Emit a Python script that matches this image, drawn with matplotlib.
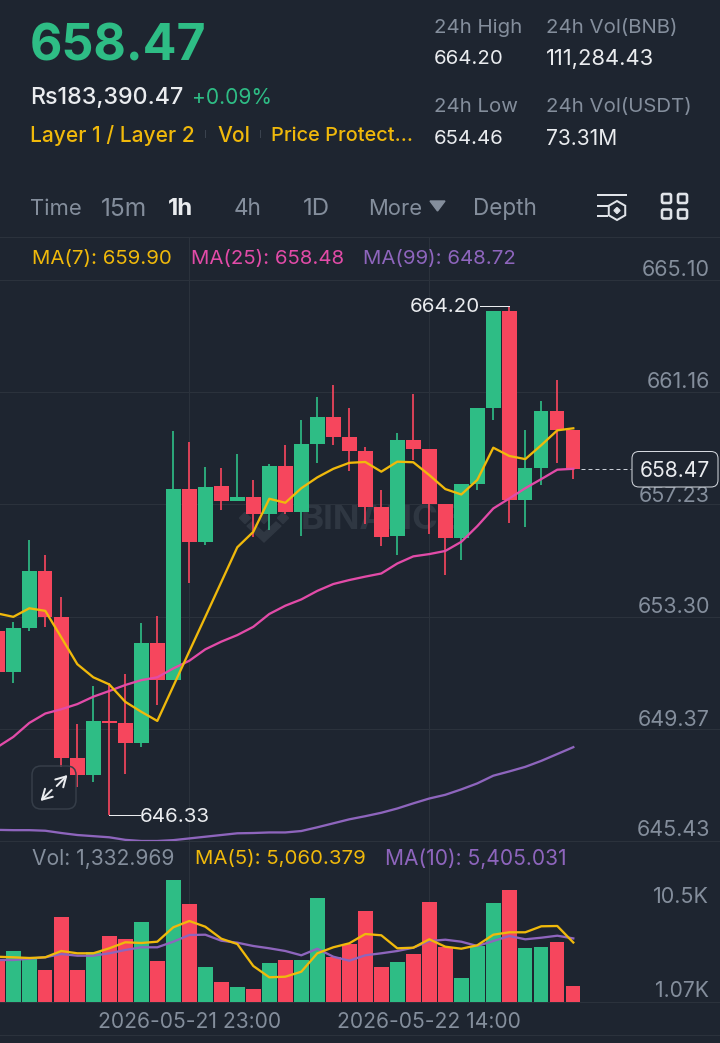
import matplotlib
matplotlib.use("Agg")
import matplotlib.pyplot as plt
from matplotlib.patches import FancyBboxPatch, Polygon, RegularPolygon, FancyArrowPatch
import numpy as np

plt.rcParams['font.family'] = ['Inter', 'DejaVu Sans']

# candles, hourly, oldest first
opens = [652.80, 651.36, 652.91, 654.91, 653.28, 648.35, 647.74, 649.63, 649.57, 648.87, 652.36, 651.07, 657.78,
         655.92, 657.87, 657.34, 657.50, 656.89, 658.58, 656.97, 659.34, 660.31, 659.60, 659.11, 657.14, 656.12,
         659.48, 659.16, 657.24, 656.06, 657.94, 660.61, 664.00, 657.38, 658.50, 660.52, 659.83]
highs = [653.10, 653.12, 655.98, 655.46, 653.97, 649.53, 650.86, 650.96, 651.27, 653.06, 653.32, 659.82, 659.41,
         658.53, 658.50, 659.00, 658.09, 658.65, 659.31, 660.19, 661.01, 661.42, 660.60, 659.23, 657.74, 659.72,
         661.10, 659.16, 657.24, 657.94, 660.61, 664.00, 664.20, 659.84, 660.85, 661.59, 659.83]
lows = [651.00, 650.98, 652.80, 652.94, 648.03, 647.33, 647.51, 646.33, 647.77, 648.71, 650.21, 651.07, 654.46,
        655.81, 657.03, 657.34, 656.10, 656.33, 656.89, 656.12, 658.69, 659.31, 658.41, 656.54, 655.78, 655.46,
        658.79, 656.19, 654.75, 655.28, 657.74, 660.19, 656.59, 656.43, 657.92, 658.69, 658.12]
closes = [651.36, 652.91, 654.90, 653.28, 648.35, 647.73, 649.63, 649.56, 648.87, 652.36, 651.07, 657.78, 655.92,
          657.85, 657.35, 657.50, 656.89, 658.58, 656.97, 659.34, 660.31, 659.60, 659.11, 657.14, 656.10, 659.48,
          659.16, 657.24, 656.06, 657.94, 660.61, 664.00, 657.38, 658.50, 660.52, 659.84, 658.47]

ma7 = [653.41, 653.29, 653.59, 653.50, 652.57, 651.63, 651.17, 650.92, 650.31, 649.96, 649.64, 650.86, 652.08,
       653.29, 654.51, 655.73, 656.27, 657.43, 657.29, 657.80, 658.18, 658.48, 658.69, 658.72, 658.38, 658.73,
       658.71, 658.26, 657.77, 657.58, 658.09, 659.22, 658.93, 658.82, 659.31, 659.83, 659.90]
ma25 = [648.72, 649.08, 649.57, 649.90, 650.05, 650.23, 650.49, 650.69, 650.90, 651.07, 651.17, 651.48, 651.75,
        652.15, 652.42, 652.65, 652.94, 653.39, 653.68, 653.90, 654.20, 654.44, 654.58, 654.70, 654.81, 655.16,
        655.41, 655.49, 655.60, 655.92, 656.47, 657.09, 657.44, 657.80, 658.12, 658.45, 658.48]
ma99 = [645.82, 645.81, 645.81, 645.79, 645.71, 645.64, 645.60, 645.56, 645.47, 645.43, 645.43, 645.46, 645.52,
        645.58, 645.64, 645.70, 645.71, 645.73, 645.73, 645.78, 645.91, 646.05, 646.19, 646.30, 646.42, 646.57,
        646.75, 646.92, 647.05, 647.24, 647.45, 647.72, 647.87, 648.03, 648.24, 648.48, 648.72]

volumes = [3570, 4335, 3630, 2720, 7225, 2720, 4276, 5636, 5355, 6800, 3511, 10370, 8305, 2975, 1675, 1300, 1080,
           3315, 3545, 3570, 8815, 3851, 4905, 7735, 2950, 3375, 4055, 8526, 4650, 2040, 4760, 8441, 9520, 4565,
           4650, 5075, 1333]
vol_ma5 = [3850, 3800, 3740, 3800, 4335, 4140, 4140, 4565, 5075, 5015, 5126, 6350, 6885, 6400, 5380, 4930, 3060,
           2100, 2150, 2575, 4140, 4650, 4990, 5780, 5670, 4565, 4615, 5330, 4700, 4530, 4820, 5720, 5925, 5925,
           6435, 6460, 5060]
vol_ma10 = [3570, 3570, 3680, 3800, 4080, 3935, 3935, 4140, 4420, 4650, 4650, 5126, 5695, 5720, 5210, 5040, 4760,
            4565, 4335, 3970, 4530, 3850, 3510, 3970, 4140, 4335, 4615, 5185, 5295, 5126, 4760, 5185, 5610, 5330,
            5465, 5635, 5405]

price_ticks = [665.10, 661.16, 657.23, 653.30, 649.37, 645.43]
price_labels = ['665.10', '661.16', '657.23', '653.30', '649.37', '645.43']
date_labels = ['2026-05-21 23:00', '2026-05-22 14:00']
date_idx = [12, 27]

BG = '#1e2530'
GRID = '#2b323c'
GREEN = '#2ebd85'
RED = '#f6465d'
YELLOW = '#f0b90b'
PINK = '#e24ba8'
PURPLE = '#8e65bd'
GRAY = '#848e9c'
WHITE = '#eaecef'

W, H = 720, 1043
PX = 0.72  # points per pixel at dpi 100

fig = plt.figure(figsize=(W / 100, H / 100), dpi=100, facecolor=BG)


def panel(top, bottom, z):
    a = fig.add_axes([0, (H - bottom) / H, 1, (bottom - top) / H], zorder=z)
    a.set_xlim((0 + 2.7) / 16, (W + 2.7) / 16)
    a.patch.set_alpha(0)
    a.axis('off')
    return a


# background layer in pixels, holds the watermark
bg = fig.add_axes([0, 0, 1, 1], zorder=0)
bg.set_xlim(0, W)
bg.set_ylim(H, 0)
bg.set_facecolor(BG)
bg.axis('off')
mark = '#2f3742'
bg.text(301, 520, 'BINANCE', color=mark, fontsize=35 * PX, fontweight='bold', va='center', ha='left')
for cx, cy in [(245, 518), (283, 518), (264, 518)]:
    bg.add_patch(RegularPolygon((cx, cy), 4, radius=5.5, color=mark))
bg.add_patch(Polygon([(247, 526), (252, 522), (264, 533), (276, 522), (281, 526), (264, 542)], color=mark))

# price panel
ax = panel(237, 841, 1)
k = 0.03507
ax.set_ylim(645.43, 665.10 + (280 - 237) * k)
x = np.arange(len(closes))
up = np.array(closes) >= np.array(opens)
colors = [GREEN if u else RED for u in up]

for p in price_ticks[:-1]:
    ax.axhline(p, color=GRID, lw=1 * PX, zorder=1)
for d in date_idx:
    ax.axvline(d, color=GRID, lw=1 * PX, zorder=1)

ax.vlines(x, lows, highs, colors=colors, lw=2 * PX, alpha=0.85, zorder=2)
body_lo = np.minimum(opens, closes)
body_hi = np.maximum(opens, closes)
ax.bar(x, body_hi - body_lo, bottom=body_lo, width=0.9, color=colors, zorder=3)

ax.plot(x, ma99, color=PURPLE, lw=2.3 * PX, zorder=4)
ax.plot(x, ma25, color=PINK, lw=2.3 * PX, zorder=4)
ax.plot(x, ma7, color=YELLOW, lw=2.3 * PX, zorder=5)

# high / low markers
hi_i = int(np.argmax(highs))
lo_i = int(np.argmin(lows))
ax.plot([hi_i, 30.17], [highs[hi_i], highs[hi_i]], color=WHITE, lw=1 * PX, zorder=6)
ax.plot([lo_i, 8.92], [lows[lo_i], lows[lo_i]], color=WHITE, lw=1 * PX, zorder=6)
ax.annotate('%.2f' % highs[hi_i], (30.17, highs[hi_i]), xytext=(0, -1.2), textcoords='offset points',
            color=WHITE, fontsize=20.5 * PX, ha='right', va='center', zorder=6)
ax.annotate('%.2f' % lows[lo_i], (8.92, lows[lo_i]), xytext=(0, -1.2), textcoords='offset points',
            color=WHITE, fontsize=20.5 * PX, ha='left', va='center', zorder=6)

# last price dashed line
ax.plot([36.5, 39.6], [closes[-1], closes[-1]], color='#c9ced6', lw=1 * PX, dashes=(4, 3), zorder=6)

# volume panel
vx = panel(841, 1002, 1)
vx.set_ylim(0, 161 * 85)
for d in date_idx:
    vx.axvline(d, color=GRID, lw=1 * PX, zorder=1)
vx.bar(x, volumes, width=0.9, color=colors, zorder=3)
vx.plot(x, vol_ma10, color=PURPLE, lw=2.3 * PX, zorder=4)
vx.plot(x, vol_ma5, color=YELLOW, lw=2.3 * PX, zorder=5)

# overlay for all the labels, in pixels
ov = fig.add_axes([0, 0, 1, 1], zorder=5)
ov.set_xlim(0, W)
ov.set_ylim(H, 0)
ov.patch.set_alpha(0)
ov.axis('off')


def t(px, py, s, size, color, ha='left', weight='normal'):
    ov.text(px, py + 2, s, color=color, fontsize=size * PX, ha=ha, va='center', fontweight=weight)


for yy in [237, 841, 1002, 1035]:
    ov.plot([0, W], [yy, yy], color=GRID, lw=1 * PX, zorder=1)

t(30, 45, '658.47', 50, GREEN, weight='bold')
t(30, 96, 'Rs183,390.47', 23.3, WHITE, weight='medium')
t(191.5, 96, '+0.09%', 21, GREEN)
t(30, 134, 'Layer 1 / Layer 2', 21, YELLOW, weight='medium')
t(217, 134, 'Vol', 21, YELLOW, weight='medium')
t(271, 134, 'Price Protect...', 20, YELLOW, weight='medium')
for sx in [205, 260]:
    ov.plot([sx, sx], [130, 137], color='#3a424e', lw=1 * PX)

t(434, 26, '24h High', 20.4, GRAY)
t(434, 57, '664.20', 20.4, WHITE)
t(546, 26, '24h Vol(BNB)', 20.4, GRAY)
t(546, 57, '111,284.43', 22, WHITE)
t(434, 105, '24h Low', 20.4, GRAY)
t(434, 137, '654.46', 20.4, WHITE)
t(546, 105, '24h Vol(USDT)', 20.4, GRAY)
t(546, 137, '73.31M', 21, WHITE)

t(30, 207, 'Time', 22, GRAY)
t(101, 207, '15m', 24.5, GRAY)
t(168, 207, '1h', 24, WHITE, weight='bold')
t(234, 207, '4h', 22.5, GRAY)
t(303, 207, '1D', 24, GRAY)
t(368, 207, 'More', 22, GRAY)
t(473, 207, 'Depth', 22.5, GRAY)
ov.add_patch(Polygon([(430, 201), (445, 201), (437.5, 211)], color=GRAY))

# toolbar icons
ic = '#e0e3e8'
ov.plot([598, 626], [195, 195], color=ic, lw=2 * PX)
ov.plot([598, 607], [206, 206], color=ic, lw=2 * PX)
ov.plot([598, 607], [216, 216], color=ic, lw=2 * PX)
ov.add_patch(RegularPolygon((617, 210.5), 6, radius=9.5, fill=False, ec=ic, lw=2 * PX))
ov.add_patch(RegularPolygon((617, 210.5), 4, radius=3, color=ic))
for sx in [661, 677]:
    for sy in [193, 208.5]:
        ov.add_patch(FancyBboxPatch((sx + 1, sy + 1), 9, 9, boxstyle='round,pad=0,rounding_size=1.5',
                                    fill=False, ec=ic, lw=2.6 * PX))

t(32, 257, 'MA(7): 659.90', 20.4, YELLOW)
t(191, 257, 'MA(25): 658.48', 20.4, PINK)
t(363, 257, 'MA(99): 648.72', 20.4, PURPLE)

for lab, yy in zip(price_labels, [268, 380, 494.5, 605, 718, 828]):
    t(710, yy, lab, 21.5, GRAY, ha='right')

# current price tag
ov.add_patch(FancyBboxPatch((632, 451.5), 86, 35.5, boxstyle='round,pad=0,rounding_size=7',
                            fc=BG, ec='#d5d9df', lw=1 * PX, zorder=3))
ov.text(675, 471, '%.2f' % closes[-1], color=WHITE, fontsize=21 * PX, ha='center', va='center', zorder=4)

# expand button
ov.add_patch(FancyBboxPatch((32, 766), 44, 43, boxstyle='round,pad=0,rounding_size=9',
                            fill=False, ec='#363e49', lw=1.5 * PX))
for a, b in [((56.7, 786), (67.5, 775)), ((51.7, 790), (40.5, 801))]:
    ov.add_patch(FancyArrowPatch(a, b, arrowstyle='->,head_length=7,head_width=4', color=WHITE, lw=2 * PX,
                                 shrinkA=0, shrinkB=0, mutation_scale=1))

t(32, 857, 'Vol: 1,332.969', 21, GRAY)
t(195, 857, 'MA(5): 5,060.379', 20.4, YELLOW)
t(385, 857, 'MA(10): 5,405.031', 21, PURPLE)
t(709, 895, '10.5K', 21.5, GRAY, ha='right')
t(709, 989, '1.07K', 21, GRAY, ha='right')

for d, lab in zip(date_idx, date_labels):
    t(-2.7 + 16 * d, 1020, lab, 21, GRAY, ha='center')

fig.savefig('out.png', dpi=100, facecolor=BG)
